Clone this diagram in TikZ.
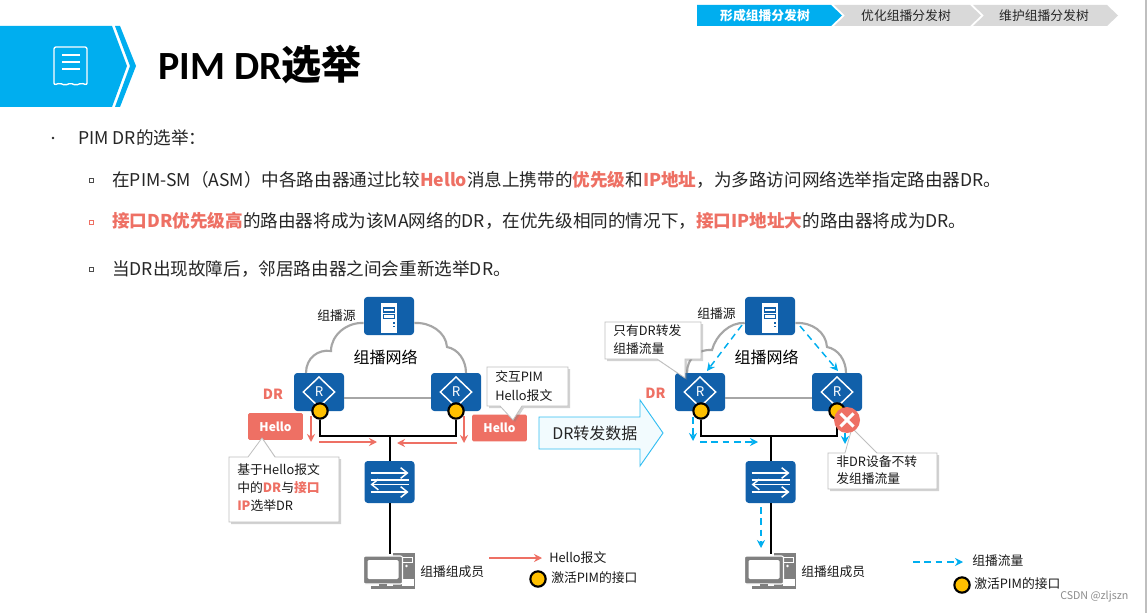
\documentclass[tikz,border=0pt]{standalone}
\usepackage{fontspec}
\setmainfont{Noto Sans CJK SC}
\newfontfamily\titlefont{Carlito}
\usetikzlibrary{arrows.meta, calc, shadows, shapes.geometric}
\definecolor{huaweiblue}{HTML}{1160AA}
\definecolor{skyblue}{HTML}{00AEEF}
\definecolor{hellored}{HTML}{EE7064}
\definecolor{cloudgray}{HTML}{A6A6A6}
\definecolor{tabgray}{HTML}{D9D9D9}
\definecolor{portyellow}{HTML}{FFC000}
\tikzset{
  devbox/.style={draw=none, fill=huaweiblue, rounded corners=2.5pt, minimum width=37.5pt, minimum height=28.5pt, inner sep=0pt},
  swbox/.style={devbox, minimum height=31.5pt},
  portdot/.style={circle, draw=black, line width=1.6pt, fill=portyellow, minimum size=11.5pt, inner sep=0pt},
  hellobox/.style={fill=hellored, rounded corners=1pt, minimum width=41pt, minimum height=20pt, inner sep=0pt, text=white, font=\fontsize{9}{9}\selectfont\bfseries},
  txt/.style={anchor=west, inner sep=0pt, font=\fontsize{9.6}{12}\selectfont, text=black!90},
  bodytxt/.style={anchor=west, inner sep=0pt, font=\fontsize{13.2}{15}\selectfont, text=black!85},
  callout/.style={draw=black!25, fill=white, line width=0.6pt, drop shadow={shadow xshift=1.5pt, shadow yshift=-1.5pt, opacity=0.35}},
  redarrow/.style={draw=hellored, line width=1.1pt, -{Stealth[length=6pt,width=6pt]}},
  bluearrow/.style={draw=skyblue, line width=1.1pt, dash pattern=on 5pt off 3.5pt, -{Stealth[length=6pt,width=6pt]}},
  wire/.style={draw=black, line width=1.5pt},
  grayline/.style={draw=cloudgray, line width=1.6pt},
  hl/.style={},
}
\newcommand{\redbf}[1]{{\color{hellored}\bfseries #1}}
% router: box with diamond
\newcommand{\routerbox}[2]{%
  \node[devbox] (#1) at (#2) {};
  \node[diamond, draw=white, line width=1.1pt, minimum width=24pt, minimum height=23pt, inner sep=0pt, font=\fontsize{10}{10}\selectfont, text=white] (#1R) at (#1.center) {R};
}
% server
\newcommand{\serverbox}[2]{%
  \node[devbox] (#1) at (#2) {};
  \fill[white] ($(#1.center)+(-8,-12.5)$) rectangle ($(#1.center)+(8,17)$);
  \draw[huaweiblue, line width=0.8pt] ($(#1.center)+(-5.5,-8)$) rectangle ($(#1.center)+(5.5,-4)$);
  \draw[huaweiblue, line width=0.8pt] ($(#1.center)+(-5.5,-1.5)$) rectangle ($(#1.center)+(5.5,2.5)$);
  \fill[huaweiblue] ($(#1.center)+(3.5,6)$) rectangle ($(#1.center)+(5.5,8)$);
  \fill[huaweiblue] ($(#1.center)+(3.5,9.5)$) rectangle ($(#1.center)+(5.5,11)$);
}
% switch
\newcommand{\switchbox}[2]{%
  \node[swbox] (#1) at (#2) {};
  \draw[white, line width=1.1pt, -{Straight Barb[length=5pt,width=8pt]}] ($(#1.center)+(-19,-9)$) -- ($(#1.center)+(19,-9)$);
  \draw[white, line width=1.1pt] ($(#1.center)+(-19,-2)$) -- ($(#1.center)+(19,-2)$);
  \draw[white, line width=1.1pt, -{Straight Barb[length=5pt,width=8pt]}] ($(#1.center)+(19,2.5)$) -- ($(#1.center)+(-19,2.5)$);
  \draw[white, line width=1.1pt, -{Straight Barb[length=5pt,width=8pt]}] ($(#1.center)+(-19,10)$) -- ($(#1.center)+(19,10)$);
}
% member pc
\newcommand{\pcbox}[2]{%
  \coordinate (#1) at (#2);
  \fill[black!50] ($(#1)+(3,-18)$) rectangle ($(#1)+(25,18)$);
  \draw[white, line width=0.5pt] ($(#1)+(9,-14)$) rectangle ($(#1)+(23,-9)$);
  \fill[white] ($(#1)+(17,-5)$) circle (1.3);
  \fill[white] ($(#1)+(12,8)$) rectangle ($(#1)+(24,15)$);
  \fill[black!50, draw=white, line width=0.8pt, rounded corners=1.5pt] ($(#1)+(-26,-15)$) rectangle ($(#1)+(13,13)$);
  \fill[white, rounded corners=1pt] ($(#1)+(-22,-11)$) rectangle ($(#1)+(9,8)$);
  \fill[black!50] ($(#1)+(-11,13)$) rectangle ($(#1)+(-3,15)$);
  \fill[black!50] ($(#1)+(-19,15)$) rectangle ($(#1)+(5,18)$);
}
\begin{document}
\begin{tikzpicture}[x=0.75pt, y=-0.75pt, >={Stealth[length=6pt]}]
  \useasboundingbox (0,0) rectangle (1147,613);
  \fill[white] (0,0) rectangle (1147,613);
  \fill[black!25] (1145,0) rectangle (1147,613);

  % header
  \fill[skyblue] (0,26) -- (112,26) -- (127,66) -- (112,107) -- (0,107) -- cycle;
  \fill[skyblue] (115,26) -- (120,26) -- (136,66) -- (120,107) -- (115,107) -- (130,66) -- cycle;
  \draw[white, line width=1pt, rounded corners=1.5pt] (54,47) -- (87,47) -- (87,85) -- (81,83) -- (76,85.5) -- (70.5,83) -- (65,85.5) -- (60,83) -- (54,85) -- cycle;
  \foreach \yy in {55,62,69} \draw[white, line width=1pt] (62,\yy) -- (80,\yy);
  \node[anchor=west, inner sep=0pt, font=\titlefont\fontsize{30}{30}\selectfont\bfseries] (title) at (158,65) {PIM DR{\fontspec{Noto Sans CJK SC}\bfseries 选举}};

  % tabs
  \fill[skyblue] (697,5) -- (831,5) -- (842,15.5) -- (831,26) -- (697,26) -- cycle;
  \fill[tabgray] (834,5) -- (970,5) -- (981,15.5) -- (970,26) -- (834,26) -- (845,15.5) -- cycle;
  \fill[tabgray] (973,5) -- (1107,5) -- (1118,15.5) -- (1107,26) -- (973,26) -- (984,15.5) -- cycle;
  \node[font=\fontsize{9.6}{12}\selectfont\bfseries, text=white, inner sep=0pt] (tab1) at (765,16) {形成组播分发树};
  \node[font=\fontsize{9.6}{12}\selectfont, text=black!85, inner sep=0pt] (tab2) at (906,16) {优化组播分发树};
  \node[font=\fontsize{9.6}{12}\selectfont, text=black!85, inner sep=0pt] (tab3) at (1044,16) {维护组播分发树};

  % body text
  \fill[black!85] (53,138) circle (1.3);
  \node[bodytxt] (line0) at (78,138) {PIM DR的选举：};
  \foreach \yy/\cc in {180/black!70, 222/hellored, 269/black!70} \draw[\cc, line width=0.6pt] (89,\yy-2) rectangle (93,\yy+2);
  \node[bodytxt] (line1) at (112,180) {在PIM-SM（ASM）中各路由器通过比较\redbf{Hello}消息上携带的\redbf{优先级}和\redbf{IP地址}，为多路访问网络选举指定路由器DR。};
  \node[bodytxt] (line2) at (112,221) {\redbf{接口DR优先级高}的路由器将成为该MA网络的DR，在优先级相同的情况下，\redbf{接口IP地址大}的路由器将成为DR。};
  \node[bodytxt] (line3) at (112,269) {当DR出现故障后，邻居路由器之间会重新选举DR。};

  % left network
  \serverbox{srcL}{389,316}
  \routerbox{rtrLa}{319,392}
  \routerbox{rtrLb}{456,392}
  \switchbox{swL}{389.5,482}
  \pcbox{pcL}{389.5,571}
  \coordinate (busLa) at (320,436);
  \coordinate (busLb) at (456,436);
  \coordinate (busLm) at (389.5,436);
  \draw[grayline] (306,373) .. controls (306,358) and (318,349) .. (331,351) .. controls (331,335) and (347,322) .. (srcL.west |- 0,323);
  \draw[grayline] (srcL.east |- 0,323) .. controls (430,322) and (446,332) .. (447,347) .. controls (458,349) and (466,360) .. (466,373);
  \draw[grayline] (rtrLa.east |- 0,398) -- (rtrLb.west |- 0,398);
  \node[portdot] (portLa) at (320,411) {};
  \node[portdot] (portLb) at (456,411) {};
  \begin{scope}[on background layer/.try]
  \end{scope}
  \draw[wire] (portLa.south) -- (busLa) -- (busLb) -- (portLb.south);
  \draw[wire] (busLm) -- (swL.north);
  \draw[wire] (swL.south) -- (pcL |- 0,554);
  \node[font=\fontsize{12}{12}\selectfont, inner sep=0pt] (cloudL) at (385.5,357) {组播网络};
  \node[txt] (srcLlabel) at (317,316) {组播源};
  \node[font=\fontsize{10.5}{10.5}\selectfont\bfseries, text=hellored, inner sep=0pt] (drL) at (273,394) {DR};
  \node[hellobox] (helloLa) at (275.5,426.5) {Hello};
  \node[hellobox] (helloLb) at (499.5,428) {Hello};
  \coordinate (rvLa) at (311,416); \coordinate (rvLa2) at (311,442);
  \coordinate (rhLa) at (319,442); \coordinate (rhLa2) at (377,442);
  \coordinate (rhLb) at (457,443); \coordinate (rhLb2) at (397,443);
  \coordinate (rvLb) at (464,416); \coordinate (rvLb2) at (464,443);
  \draw[redarrow] (rvLa) -- (rvLa2);
  \draw[redarrow] (rhLa) -- (rhLa2);
  \draw[redarrow] (rhLb) -- (rhLb2);
  \draw[redarrow] (rvLb) -- (rvLb2);
  \draw[callout] (229,457) -- (248,457) -- (262,438) -- (275,457) -- (339,457) -- (339,522) -- (229,522) -- cycle;
  \node[txt] (noteLa1) at (237,470) {基于Hello报文};
  \node[txt] (noteLa2) at (237,488) {中的\redbf{DR}与\redbf{接口}};
  \node[txt] (noteLa3) at (237,506) {\redbf{IP}选举DR};
  \draw[callout] (487,367) -- (568,367) -- (568,406) -- (522,406) -- (513,420) -- (500,406) -- (487,406) -- cycle;
  \node[txt] (noteLb1) at (495,377) {交互PIM};
  \node[txt] (noteLb2) at (495,396) {Hello报文};

  % big arrow
  \draw[draw=skyblue!80, fill=skyblue!5, line width=0.7pt] (539,417) -- (640,417) -- (640,400) -- (663,433) -- (640,466) -- (640,449) -- (539,449) -- cycle;
  \node[anchor=west, inner sep=0pt, font=\fontsize{12}{12}\selectfont, text=black!85] (forward) at (552,433) {DR转发数据};

  % right network
  \serverbox{srcR}{770,316}
  \routerbox{rtrRa}{700,392}
  \routerbox{rtrRb}{837,392}
  \switchbox{swR}{770.5,482}
  \pcbox{pcR}{770.5,571}
  \coordinate (busRa) at (701,436);
  \coordinate (busRb) at (837,436);
  \coordinate (busRm) at (770.5,436);
  \draw[grayline] (687,373) .. controls (687,358) and (698,349) .. (712,350) .. controls (716,335) and (730,322) .. (srcR.west |- 0,323);
  \draw[grayline] (srcR.east |- 0,323) .. controls (812,322) and (826,332) .. (827,347) .. controls (838,349) and (846,360) .. (846,373);
  \draw[grayline] (rtrRa.east |- 0,398) -- (rtrRb.west |- 0,398);
  \node[portdot] (portRa) at (701,411) {};
  \node[portdot] (portRb) at (837,411) {};
  \draw[wire] (portRa.south) -- (busRa) -- (busRb) -- (portRb.south);
  \draw[wire] (busRm) -- (swR.north);
  \draw[wire] (swR.south) -- (pcR |- 0,554);
  \node[font=\fontsize{12}{12}\selectfont, inner sep=0pt] (cloudR) at (766.5,357) {组播网络};
  \node[txt] (srcRlabel) at (697,314) {组播源};
  \node[font=\fontsize{10.5}{10.5}\selectfont\bfseries, text=hellored, inner sep=0pt] (drR) at (655.5,393) {DR};
  \coordinate (bdLa) at (742,325); \coordinate (bdLa2) at (707,371);
  \coordinate (bdRa) at (800,326); \coordinate (bdRa2) at (838,371);
  \coordinate (bvLa) at (693,417); \coordinate (bvLa2) at (693,441);
  \coordinate (bhLa) at (700,442); \coordinate (bhLa2) at (758,442);
  \coordinate (bvRb) at (845,433); \coordinate (bvRb2) at (845,444);
  \coordinate (bvDn) at (761,507); \coordinate (bvDn2) at (761,548);
  \draw[bluearrow] (bdLa) -- (bdLa2);
  \draw[bluearrow] (bdRa) -- (bdRa2);
  \draw[bluearrow] (bvLa) -- (bvLa2);
  \draw[bluearrow] (bhLa) -- (bhLa2);
  \draw[bluearrow] (bvRb) -- (bvRb2);
  \draw[bluearrow] (bvDn) -- (bvDn2);
  \draw[callout] (605,322) -- (701,322) -- (701,359) -- (685,359) -- (685,378) -- (657,359) -- (605,359) -- cycle;
  \node[txt] (noteRa1) at (613,331) {只有DR转发};
  \node[txt] (noteRa2) at (613,349) {组播流量};
  \draw[callout] (828,453) -- (845,453) -- (852,428) -- (877,453) -- (937,453) -- (937,489) -- (828,489) -- cycle;
  \node[circle, fill=hellored, minimum size=19.5pt, inner sep=0pt] (cross) at (847,420) {};
  \draw[white, line width=2.2pt] ($(cross.center)+(-6.5,-6.5)$) -- ($(cross.center)+(6.5,6.5)$);
  \draw[white, line width=2.2pt] ($(cross.center)+(-6.5,6.5)$) -- ($(cross.center)+(6.5,-6.5)$);
  \node[txt] (noteRb1) at (836,462) {非DR设备不转};
  \node[txt] (noteRb2) at (836,479) {发组播流量};

  % legends
  \node[txt] (memberL) at (420,572) {组播组成员};
  \node[txt] (memberR) at (801,572) {组播组成员};
  \coordinate (legRa) at (489,558); \coordinate (legRb) at (542,558);
  \draw[redarrow] (legRa) -- (legRb);
  \node[txt] (legHello) at (549,558) {Hello报文};
  \node[portdot] (legPortL) at (538,579) {};
  \node[txt] (legPortLt) at (551,578) {激活PIM的接口};
  \coordinate (legBa) at (913,562); \coordinate (legBb) at (963,562);
  \draw[bluearrow] (legBa) -- (legBb);
  \node[txt] (legFlow) at (972,561) {组播流量};
  \node[portdot] (legPortR) at (962,585) {};
  \node[txt] (legPortRt) at (974,584) {激活PIM的接口};
  \node[anchor=west, inner sep=0pt, font=\fontsize{8}{8}\selectfont, text=black!45] (mark) at (1060,597) {CSDN @zljszn};
\end{tikzpicture}
\end{document}
